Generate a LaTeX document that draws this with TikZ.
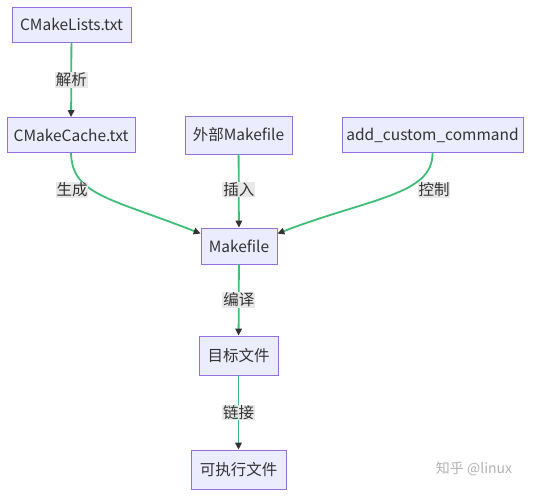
\documentclass[tikz,border=0pt]{standalone}
\usepackage{fontspec}
\setmainfont{Noto Sans CJK SC}
\usetikzlibrary{arrows.meta}
\definecolor{boxfill}{HTML}{ECECFF}
\definecolor{boxline}{HTML}{9370DB}
\definecolor{flowgreen}{RGB}{62,190,118}
\definecolor{lblfill}{HTML}{E8E8E8}
\begin{document}
\begin{tikzpicture}[x=1pt, y=-1pt,
			box/.style = {draw=boxline, fill=boxfill, line width=0.8pt, minimum height=35pt,
				inner xsep=4pt, font=\fontsize{15.5}{18}\selectfont, text=black!80},
			lbl/.style = {fill=lblfill, inner sep=0.8pt, font=\fontsize{15.5}{18}\selectfont, text=black!80},
			flow/.style = {draw=flowgreen, line width=1.8pt,
				-{Triangle[length=7pt, width=6.5pt, color=black!80]}}]
			
			\useasboundingbox (0,0) rectangle (534,497);
			
			% boxes
			\node[box, minimum width=119pt] (lists)   at (71.5,24.5) {CMakeLists.txt};
			\node[box, minimum width=128pt] (cache)   at (71,135)    {CMakeCache.txt};
			\node[box, minimum width=107pt, minimum height=38pt] (extern) at (238.5,135) {外部Makefile};
			\node[box, minimum width=181pt] (custom)  at (432.5,135) {add\_custom\_command};
			\node[box, minimum width=76pt, minimum height=36pt]  (make)   at (239,246)   {Makefile};
			\node[box, minimum width=79pt, minimum height=39pt]  (obj)    at (238.5,355.5) {目标文件};
			\node[box, minimum width=95pt, minimum height=39pt]  (exe)    at (238.5,469.5) {可执行文件};
			
			% connectors
			\draw[flow] (lists) -- node[lbl] {解析} (cache);
			\draw[flow] (cache.south) .. controls (72,195) and (110,198) .. ([yshift=-6pt]make.north west);
			\draw[flow] (extern) -- node[lbl, pos=0.48] {插入} (make);
			\draw[flow] (custom.south) .. controls (433,195) and (370,198) .. ([yshift=-6pt]make.north east);
			\draw[flow] (make) -- node[lbl] {编译} (obj);
			\draw[flow] (obj) -- node[lbl] {链接} (exe);
			
			% labels on the curves
			\node[lbl] (gen)  at (72,190)  {生成};
			\node[lbl] (ctrl) at (434,190) {控制};
			
			\node[text=black!30, font=\fontsize{14}{16}\selectfont] (mark) at (474,469) {知乎 @linux};
		\end{tikzpicture}
\end{document}
